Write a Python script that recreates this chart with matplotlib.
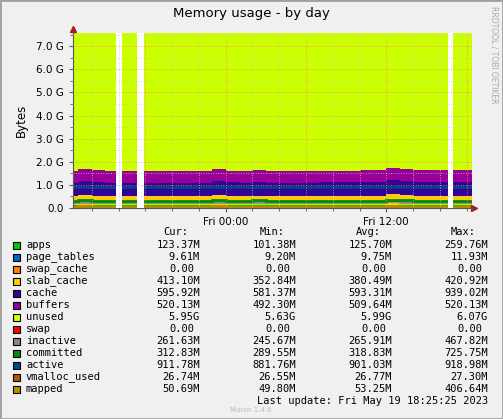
import numpy as np
import matplotlib
matplotlib.use("Agg")
import matplotlib.pyplot as plt

# hours relative to Fri 00:00, one sample per hour
hours = np.arange(-11.5, 18.6, 1.0)
# values in GB
apps = [0.12, 0.14, 0.13, 0.12, 0.12, 0.12, 0.12, 0.12, 0.12, 0.12, 0.12, 0.14, 0.12, 0.12, 0.13,
        0.12, 0.12, 0.12, 0.12, 0.12, 0.12, 0.12, 0.12, 0.12, 0.14, 0.13, 0.12, 0.12, 0.12, 0.12, 0.12]
page_tables = [0.01] * 31
swap_cache = [0.0] * 31
slab_cache = [0.38, 0.41, 0.40, 0.37, 0.37, 0.37, 0.37, 0.37, 0.37, 0.37, 0.37, 0.40, 0.38, 0.38, 0.39,
              0.38, 0.38, 0.38, 0.38, 0.38, 0.38, 0.39, 0.40, 0.40, 0.45, 0.41, 0.41, 0.41, 0.40, 0.40, 0.40]
cache = [0.59, 0.62, 0.60, 0.59, 0.59, 0.59, 0.59, 0.59, 0.59, 0.59, 0.59, 0.61, 0.60, 0.59, 0.59,
         0.59, 0.59, 0.59, 0.59, 0.60, 0.60, 0.59, 0.59, 0.59, 0.62, 0.60, 0.60, 0.60, 0.60, 0.60, 0.60]
buffers = [0.49, 0.50, 0.49, 0.49, 0.50, 0.50, 0.50, 0.50, 0.50, 0.50, 0.51, 0.51, 0.51, 0.51, 0.51,
           0.51, 0.51, 0.51, 0.51, 0.51, 0.51, 0.51, 0.51, 0.51, 0.52, 0.52, 0.52, 0.52, 0.52, 0.52, 0.52]
unused = [6.00, 5.90, 5.97, 6.03, 6.02, 6.02, 6.02, 6.02, 6.02, 6.02, 6.01, 5.91, 5.98, 6.00, 5.98,
          6.00, 6.00, 6.00, 6.00, 5.99, 5.99, 5.99, 5.97, 5.97, 5.84, 5.93, 5.93, 5.93, 5.94, 5.94, 5.95]
swap = [0.0] * 31
inactive = [0.26, 0.28, 0.26, 0.25, 0.25, 0.25, 0.25, 0.25, 0.25, 0.26, 0.26, 0.28, 0.26, 0.26, 0.27,
            0.26, 0.26, 0.26, 0.26, 0.26, 0.26, 0.26, 0.26, 0.26, 0.29, 0.27, 0.26, 0.26, 0.26, 0.26, 0.26]
committed = [0.31, 0.35, 0.32, 0.30, 0.30, 0.30, 0.30, 0.30, 0.30, 0.31, 0.31, 0.35, 0.32, 0.31, 0.33,
             0.31, 0.31, 0.31, 0.31, 0.31, 0.31, 0.31, 0.31, 0.31, 0.36, 0.33, 0.31, 0.31, 0.31, 0.31, 0.31]
active = [0.89, 0.89, 0.89, 0.89, 0.89, 0.89, 0.89, 0.89, 0.89, 0.89, 0.89, 0.89, 0.89, 0.89, 0.89,
          0.89, 0.89, 0.89, 0.89, 0.90, 0.90, 0.90, 0.91, 0.91, 0.92, 0.92, 0.92, 0.92, 0.92, 0.91, 0.91]
vmalloc_used = [0.027] * 31
mapped = [0.05, 0.07, 0.05, 0.05, 0.05, 0.05, 0.05, 0.05, 0.05, 0.05, 0.05, 0.07, 0.05, 0.05, 0.05,
          0.05, 0.05, 0.05, 0.05, 0.05, 0.05, 0.05, 0.05, 0.05, 0.08, 0.05, 0.05, 0.05, 0.05, 0.05, 0.05]
gaps = [(-8.19, -7.74), (-6.62, -6.09), (16.58, 16.96)]

names = ["apps", "page_tables", "swap_cache", "slab_cache", "cache", "buffers", "unused", "swap",
         "inactive", "committed", "active", "vmalloc_used", "mapped"]
colors = ["#00CC00", "#0066B3", "#FF8000", "#FFCC00", "#330099", "#990099", "#CCFF00", "#FF0000",
          "#888888", "#008F00", "#00487D", "#B35A00", "#B38F00"]
cur = ["123.37M", "9.61M", "0.00", "413.10M", "595.92M", "520.13M", "5.95G", "0.00",
       "261.63M", "312.83M", "911.78M", "26.74M", "50.69M"]
mins = ["101.38M", "9.20M", "0.00", "352.84M", "581.37M", "492.30M", "5.63G", "0.00",
        "245.67M", "289.55M", "881.76M", "26.55M", "49.80M"]
avgs = ["125.70M", "9.75M", "0.00", "380.49M", "593.31M", "509.64M", "5.99G", "0.00",
        "265.91M", "318.83M", "901.03M", "26.77M", "53.25M"]
maxs = ["259.76M", "11.93M", "0.00", "420.92M", "939.02M", "520.13M", "6.07G", "0.00",
        "467.82M", "725.75M", "918.98M", "27.30M", "406.64M"]

W, H = 503, 419
fig = plt.figure(figsize=(W / 100, H / 100), dpi=100, facecolor="#F0F0F0")
ax = fig.add_axes([73 / W, 1 - 208 / H, (472 - 73) / W, (208 - 33) / H])
ax.set_facecolor("white")

stacks = [apps, page_tables, swap_cache, slab_cache, cache, buffers, unused, swap]
x = np.append(hours - 0.5, hours[-1] + 0.5)
base = np.zeros(len(hours))
for vals, c in zip(stacks, colors[:8]):
    v = np.array(vals)
    ax.stairs(base + v, x, baseline=base, fill=True, color=c, lw=0, zorder=1)
    base = base + v
for vals, c in zip([inactive, committed, active, vmalloc_used, mapped], colors[8:]):
    ax.stairs(vals, x, color=c, lw=2, zorder=2, baseline=None)
for a, b in gaps:
    ax.axvspan(a, b, color="white", lw=0, zorder=3)

ax.set_xlim(-11.4, 18.4)
ax.set_ylim(0, 7.57)
for h in np.arange(-10, 19, 2):
    c = "#FF8080" if h % 6 == 0 else "#C8C8C8"
    ax.axvline(h, color=c, lw=0.6, ls=(0, (1, 2)), zorder=4)
for y in np.arange(0.5, 7.6, 0.5):
    c = "#FF8080" if y % 1 == 0 else "#C8C8C8"
    ax.axhline(y, color=c, lw=0.6, ls=(0, (1, 2)), zorder=4)

ax.set_xticks([0, 12])
ax.set_xticks(np.arange(-10, 19, 2), minor=True)
ax.set_xticklabels(["Fri 00:00", "Fri 12:00"])
ax.set_yticks(np.arange(0, 7.1, 1.0))
ax.set_yticks(np.arange(0.5, 7.6, 1.0), minor=True)
ax.set_yticklabels(["0.0"] + ["%.1f G" % v for v in np.arange(1, 7.1, 1.0)])
ax.tick_params(labelsize=7.5, length=3, colors="#555555", labelcolor="black")
ax.tick_params(which="minor", length=2, colors="#555555")
for s in ["top", "right"]:
    ax.spines[s].set_visible(False)
for s in ["left", "bottom"]:
    ax.spines[s].set_color("#555555")
    ax.spines[s].set_linewidth(0.8)
ax.set_ylabel("Bytes", fontsize=8.5, labelpad=6)
ax.plot(1.005, 0, ">", color="#A02020", ms=4, transform=ax.transAxes, clip_on=False)
ax.plot(0, 1.02, "^", color="#A02020", ms=4, transform=ax.transAxes, clip_on=False)

fig.text(251 / W, 1 - 13 / H, "Memory usage - by day", ha="center", va="center", fontsize=9.5)
fig.text(494 / W, 1 - 55 / H, "RRDTOOL / TOBI OETIKER", rotation=270, ha="center", va="center",
         fontsize=5.5, color="#AAAAAA")

mono = "DejaVu Sans Mono"
fs = 7.5
for lbl, xr in zip(["Cur:", "Min:", "Avg:", "Max:"], [188, 285, 381, 476]):
    fig.text(xr / W, 1 - 232 / H, lbl, ha="right", va="center", family=mono, fontsize=fs)
for i, n in enumerate(names):
    y = 1 - (245 + 12 * i) / H
    fig.patches.append(plt.Rectangle((13 / W, y - 3.5 / H), 7 / W, 7 / H, transform=fig.transFigure,
                                     facecolor=colors[i], edgecolor="black", lw=0.8))
    fig.text(26 / W, y, n, ha="left", va="center", family=mono, fontsize=fs)
    for val, xr in zip([cur[i], mins[i], avgs[i], maxs[i]], [200, 296, 392, 488]):
        if val == "0.00":
            xr -= 6
        fig.text(xr / W, y, val, ha="right", va="center", family=mono, fontsize=fs)
fig.text(488 / W, 1 - 401 / H, "Last update: Fri May 19 18:25:25 2023", ha="right", va="center",
         family=mono, fontsize=fs)
fig.text(251 / W, 1 - 410 / H, "Munin 1.4.6", ha="center", va="center", fontsize=5, color="#BBBBBB")
fig.patches.append(plt.Rectangle((0, 0), 1, 1, transform=fig.transFigure, fill=False,
                                 edgecolor="#A0A0A0", lw=2))

fig.savefig("out.png", dpi=100, facecolor=fig.get_facecolor())
